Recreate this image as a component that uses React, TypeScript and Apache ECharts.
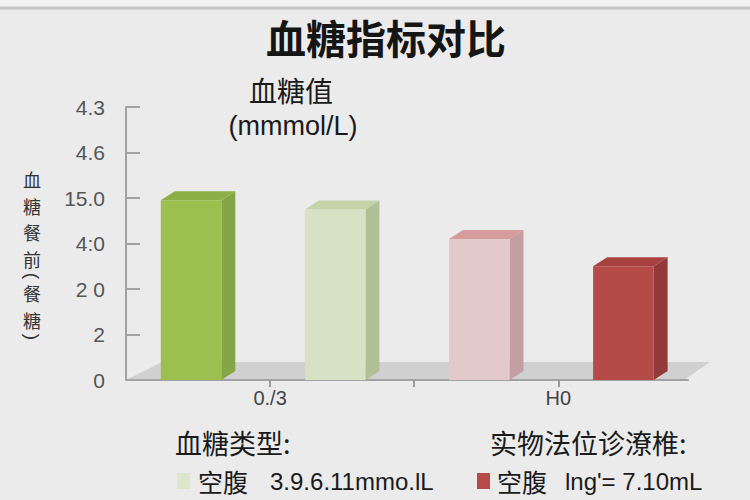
import React, { useEffect, useRef } from "react";
import * as echarts from "echarts";

const categories = ["空腹（正常）", "餐后（正常）", "空腹（诊断）", "餐后（诊断）"];
const glucoseValues = [3.95, 3.75, 3.1, 2.5];
const yTickLabels = ["0", "2", "2 0", "4:0", "15.0", "4.6", "4.3"];
const xTickLabels: Record<number, string> = { 1: "0./3", 3: "H0" };
const chartTitle = "血糖指标对比";
const unitLines = ["血糖值", "(mmmol/L)"];
const yAxisName = ["血", "糖", "餐", "前", "(", "餐", "糖", ")"];
const legendHeaders = ["血糖类型:", "实物法位诊潦椎:"];
const legendItems = [
  { label: "空腹", note: "3.9.6.11mmo.lL" },
  { label: "空腹", note: "lng'= 7.10mL" },
];

const frontColors = ["#9cbf50", "#d6e2c3", "#e3c9c9", "#b54b47"];
const sideColors = ["#86a546", "#afc096", "#c49fa1", "#913a39"];
const topColors = ["#8cb046", "#c2d4a8", "#d59b9d", "#a8423f"];
const legendColors = ["#dbe6cb", "#b84a48"];

export default function App() {
  const ref = useRef<HTMLDivElement>(null);
  useEffect(() => {
    document.body.style.margin = "0";
    const chart = echarts.init(ref.current!, null, { renderer: "svg" });
    const fs = 18;
    const charStep = 26.5;
    const parenStep = 8;
    let cursor = 166;
    const nameTexts = yAxisName.map((ch) => {
      const isParen = ch === "(" || ch === ")";
      const step = isParen ? parenStep : charStep;
      const cy = cursor + step / 2;
      cursor += step;
      return {
        type: "text",
        x: 32,
        y: cy,
        rotation: isParen ? -Math.PI / 2 : 0,
        style: {
          text: ch,
          fontSize: isParen ? 19 : fs,
          fontFamily: isParen ? "Liberation Sans" : "Noto Sans CJK SC",
          fill: "#333",
          textAlign: "center",
          textVerticalAlign: "middle",
        },
      };
    });
    const option: any = {
      animation: false,
      backgroundColor: "#ebebeb",
      grid: { left: 126, right: 62, top: 107, bottom: 120 },
      xAxis: {
        type: "value",
        min: 0,
        max: 3.9,
        splitLine: { show: false },
        axisLine: { show: true, lineStyle: { color: "#a2a2a2", width: 2 } },
        axisTick: {
          show: true,
          customValues: [1, 2, 3],
          length: 7,
          lineStyle: { color: "#9a9a9a", width: 2 },
        },
        axisLabel: {
          customValues: [1, 3],
          formatter: (v: number) => xTickLabels[Math.round(v)] || "",
          fontSize: 20,
          color: "#444",
          fontFamily: "Liberation Sans",
          margin: 8,
        },
      },
      yAxis: {
        type: "value",
        min: 0,
        max: 6,
        interval: 1,
        splitLine: { show: false },
        axisLine: { show: true, lineStyle: { color: "#a2a2a2", width: 2 } },
        axisTick: { show: true, inside: true, length: 14, lineStyle: { color: "#a2a2a2", width: 2 } },
        axisLabel: {
          formatter: (v: number) => yTickLabels[Math.round(v)] ?? "",
          fontSize: 21,
          color: "#555",
          fontFamily: "Liberation Sans",
          margin: 21,
        },
      },
      series: [
        {
          type: "custom",
          z: 5,
          data: glucoseValues.map((v, i) => ({ name: categories[i], value: [i, v] })),
          renderItem: (params: any, api: any) => {
            const i = api.value(0);
            const v = api.value(1);
            const base = api.coord([i + 0.5, 0]);
            const top = api.coord([i + 0.5, v]);
            const unit = api.size([1, 0])[0];
            const w = unit * 0.42;
            const dx = 14;
            const dy = 9;
            const x0 = base[0] - (w + dx) / 2;
            const x1 = x0 + w;
            const yb = base[1];
            const yt = top[1];
            const idx = params.dataIndex;
            return {
              type: "group",
              children: [
                {
                  type: "polygon",
                  shape: { points: [[x1, yb], [x1 + dx, yb - dy], [x1 + dx, yt - dy], [x1, yt]] },
                  style: { fill: sideColors[idx] },
                },
                {
                  type: "polygon",
                  shape: { points: [[x0, yt], [x1, yt], [x1 + dx, yt - dy], [x0 + dx, yt - dy]] },
                  style: { fill: topColors[idx] },
                },
                {
                  type: "polygon",
                  shape: { points: [[x0, yb], [x1, yb], [x1, yt], [x0, yt]] },
                  style: { fill: frontColors[idx] },
                },
              ],
            };
          },
        },
      ],
      graphic: [
        { type: "rect", z: -2, shape: { x: 0, y: 0, width: 750, height: 7 }, style: { fill: "#f3f3f3" } },
        { type: "line", z: -1, shape: { x1: 0, y1: 8, x2: 750, y2: 8 }, style: { stroke: "#c4c4c4", lineWidth: 3 } },
        {
          type: "polygon",
          z: -1,
          shape: { points: [[126, 380], [162, 362], [710, 362], [684, 380]] },
          style: { fill: "#d0d0d0" },
        },
        {
          type: "text",
          x: 386,
          y: 37,
          style: {
            text: chartTitle,
            fontSize: 40,
            fontWeight: "bold",
            fontFamily: "Noto Sans CJK SC",
            fill: "#151515",
            textAlign: "center",
            textVerticalAlign: "middle",
          },
        },
        {
          type: "text",
          x: 291,
          y: 90,
          style: {
            text: unitLines[0],
            fontSize: 28,
            fontFamily: "Noto Sans CJK SC",
            fill: "#1a1a1a",
            textAlign: "center",
            textVerticalAlign: "middle",
          },
        },
        {
          type: "text",
          x: 293,
          y: 126,
          style: {
            text: unitLines[1],
            fontSize: 27,
            fontFamily: "Liberation Sans",
            fill: "#1a1a1a",
            textAlign: "center",
            textVerticalAlign: "middle",
          },
        },
        ...nameTexts,
        {
          type: "text",
          x: 175,
          y: 442,
          style: {
            text: legendHeaders[0],
            fontSize: 27,
            fontFamily: "Noto Sans CJK SC",
            fill: "#1a1a1a",
            textVerticalAlign: "middle",
          },
        },
        {
          type: "text",
          x: 490,
          y: 442,
          style: {
            text: legendHeaders[1],
            fontSize: 27,
            fontFamily: "Noto Sans CJK SC",
            fill: "#1a1a1a",
            textVerticalAlign: "middle",
          },
        },
        { type: "rect", shape: { x: 177, y: 473, width: 13, height: 16 }, style: { fill: legendColors[0] } },
        {
          type: "text",
          x: 198,
          y: 481,
          style: {
            text: legendItems[0].label,
            fontSize: 25,
            fontFamily: "Noto Sans CJK SC",
            fill: "#1a1a1a",
            textVerticalAlign: "middle",
          },
        },
        {
          type: "text",
          x: 270,
          y: 481,
          style: {
            text: legendItems[0].note,
            fontSize: 24,
            fontFamily: "Liberation Sans",
            fill: "#1a1a1a",
            textVerticalAlign: "middle",
          },
        },
        { type: "rect", shape: { x: 477, y: 473, width: 13, height: 16 }, style: { fill: legendColors[1] } },
        {
          type: "text",
          x: 497,
          y: 481,
          style: {
            text: legendItems[1].label,
            fontSize: 25,
            fontFamily: "Noto Sans CJK SC",
            fill: "#1a1a1a",
            textVerticalAlign: "middle",
          },
        },
        {
          type: "text",
          x: 565,
          y: 481,
          style: {
            text: legendItems[1].note,
            fontSize: 24,
            fontFamily: "Liberation Sans",
            fill: "#1a1a1a",
            textVerticalAlign: "middle",
          },
        },
      ],
    };
    chart.setOption(option);
    return () => chart.dispose();
  }, []);
  return (
    <div
      ref={ref}
      style={{ position: "absolute", left: 0, top: 0, width: 750, height: 500, background: "#ebebeb" }}
    />
  );
}
